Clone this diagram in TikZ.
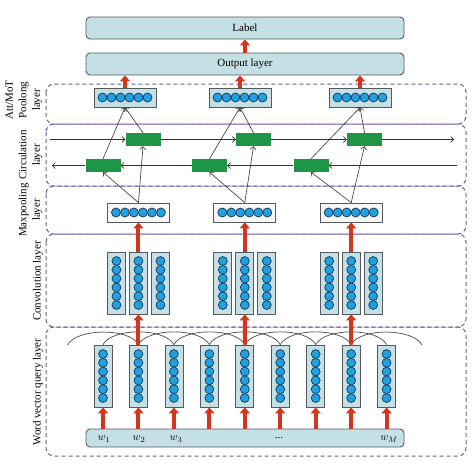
\documentclass[tikz,border=0pt]{standalone}
\usepackage{fontspec}
\setmainfont{Liberation Serif}
\usetikzlibrary{arrows.meta}
\definecolor{boxfill}{RGB}{196,224,228}
\definecolor{boxline}{RGB}{85,90,95}
\definecolor{dotfill}{RGB}{30,160,225}
\definecolor{dotline}{RGB}{25,55,85}
\definecolor{grn}{RGB}{30,150,70}
\definecolor{redarr}{RGB}{210,55,30}
\definecolor{dashc}{RGB}{115,90,165}
\newcommand\hrowdots[2]{\foreach \d in {-22.5,-13.5,-4.5,4.5,13.5,22.5} \draw[dotst] (#1+\d,#2) circle[radius=4.5pt];}
\newcommand\vcoldots[2]{\foreach \d in {-22,-13.2,-4.4,4.4,13.2,22} \draw[dotst] (#1,#2+\d) circle[radius=4.45pt];}
\begin{document}
\begin{tikzpicture}[x=1pt,y=-1pt,
 font=\fontsize{11}{13.5}\selectfont,
 bigbox/.style={draw=boxline, fill=boxfill, rounded corners=4pt, line width=0.9pt, minimum width=318pt, minimum height=22pt, inner sep=0pt},
 hbox/.style={draw=boxline, fill=boxfill, line width=0.8pt, minimum width=62pt, minimum height=19pt, inner sep=0pt},
 mbox/.style={hbox, fill=white!94!gray},
 vbox/.style={draw=boxline, fill=boxfill, line width=0.8pt, minimum width=18pt, minimum height=62pt, inner sep=0pt},
 gbox/.style={fill=grn, minimum width=35pt, minimum height=13pt, inner sep=0pt},
 redarrow/.style={draw=redarr, line width=4pt, -{Triangle[length=6pt,width=10pt]}},
 thinarrow/.style={draw=black!80, line width=0.6pt, -{Straight Barb[length=3pt,width=6pt]}},
 layerbox/.style={draw=dashc, line width=1pt, rounded corners=8pt, dash pattern=on 4pt off 3pt},
 dotst/.style={draw=dotline, fill=dotfill, line width=0.7pt},
 arcline/.style={draw=black!70, line width=0.7pt},
 layerlabel/.style={rotate=90, align=center, inner sep=0pt}
]
\useasboundingbox (0,0) rectangle (474,474);
\fill[white] (0,0) rectangle (474,474);

% dashed layer boxes
\draw[layerbox] (46,84) rectangle (466,124);
\draw[layerbox] (46,124) rectangle (466,186);
\draw[layerbox] (46,186) rectangle (466,234);
\draw[layerbox] (46,234) rectangle (466,327);
\draw[layerbox] (46,327) rectangle (466,456);

% layer labels
\node[layerlabel] (L1) at (24,100) {Att/MoT\\Poolong\\layer};
\node[layerlabel] (L2) at (30.5,155) {Circulation\\layer};
\node[layerlabel] (L3) at (30.5,210) {Maxpooling\\layer};
\node[layerlabel] (L4) at (38,281) {Convolution layer};
\node[layerlabel] (L5) at (38,392) {Word vector query layer};

% top boxes
\node[bigbox] (lab) at (245,28) {Label};
\node[bigbox] (out) at (245,64) {Output layer};

% pooling boxes
\node[hbox] (p1) at (125,97.5) {};
\node[hbox] (p2) at (240,97.5) {};
\node[hbox] (p3) at (360,97.5) {};
\hrowdots{125}{97.5}
\hrowdots{240}{97.5}
\hrowdots{360}{97.5}

% circulation layer
\node[gbox] (u1) at (143,139.5) {};
\node[gbox] (u2) at (253.5,139.5) {};
\node[gbox] (u3) at (364.5,139.5) {};
\node[gbox] (l1) at (103,165.5) {};
\node[gbox] (l2) at (209.5,165.5) {};
\node[gbox] (l3) at (311,165.5) {};
\coordinate (fs) at (50,139.5);
\coordinate (fe) at (454,139.5);
\coordinate (bs) at (457,165.5);
\coordinate (be) at (52,165.5);
\draw[thinarrow] (fs) -- (u1.west);
\draw[thinarrow] (u1.east) -- (u2.west);
\draw[thinarrow] (u2.east) -- (u3.west);
\draw[thinarrow] (u3.east) -- (fe);
\draw[thinarrow] (bs) -- (l3.east);
\draw[thinarrow] (l3.west) -- (l2.east);
\draw[thinarrow] (l2.west) -- (l1.east);
\draw[thinarrow] (l1.west) -- (be);

% maxpool boxes
\node[mbox] (m1) at (138.45,212.5) {};
\node[mbox] (m2) at (244.8,212.5) {};
\node[mbox] (m3) at (351.2,212.5) {};
\hrowdots{138.45}{212.5}
\hrowdots{244.8}{212.5}
\hrowdots{351.2}{212.5}

\foreach \g in {1,2,3}{
  \draw[thinarrow] (m\g.north) -- (l\g.south);
  \draw[thinarrow] (m\g.north) -- (u\g.south);
  \draw[thinarrow] (l\g.north) -- (p\g.south);
  \draw[thinarrow] (u\g.north) -- (p\g.south);
}

% convolution columns
\foreach \g/\cx in {1/138.45,2/244.8,3/351.2}{
  \node[vbox] (ca\g) at (\cx-22,283) {};
  \node[vbox] (cb\g) at (\cx,283) {};
  \node[vbox] (cc\g) at (\cx+22,283) {};
  \vcoldots{\cx-22}{283}
  \vcoldots{\cx}{283}
  \vcoldots{\cx+22}{283}
}

% word columns
\foreach \i in {1,...,9}{
  \pgfmathsetmacro\wx{103+35.45*(\i-1)}
  \node[vbox] (w\i) at (\wx,376) {};
  \vcoldots{\wx}{376}
  \coordinate (t\i) at (w\i.north);
}
\coordinate (t0) at (67.6,345);
\coordinate (t10) at (422,345);
\foreach \i in {0,...,8}{
  \pgfmathtruncatemacro\j{\i+2}
  \draw[arcline] (t\i) .. controls +(9,-17) and +(-9,-17) .. (t\j);
}

% input box
\node[bigbox, minimum height=18pt] (inp) at (245,438) {};
\node (x1) at (104,439) {$w_1$};
\node (x2) at (139,439) {$w_2$};
\node (x3) at (176,439) {$w_3$};
\node (x4) at (279,438) {...};
\node (x5) at (389,439) {$w_M$};

% red arrows
\foreach \i in {1,...,9}{
  \draw[redarrow] (inp.north -| w\i) -- (w\i.south);
}
\draw[redarrow] (w2.north) -- (cb1.south);
\draw[redarrow] (w5.north) -- (cb2.south);
\draw[redarrow] (w8.north) -- (cb3.south);
\foreach \g in {1,2,3}{
  \draw[redarrow] (cb\g.north) -- (m\g.south);
  \draw[redarrow] (p\g.north) -- (p\g.north |- out.south);
}
\draw[redarrow] (out.north) -- (lab.south);
\end{tikzpicture}
\end{document}
